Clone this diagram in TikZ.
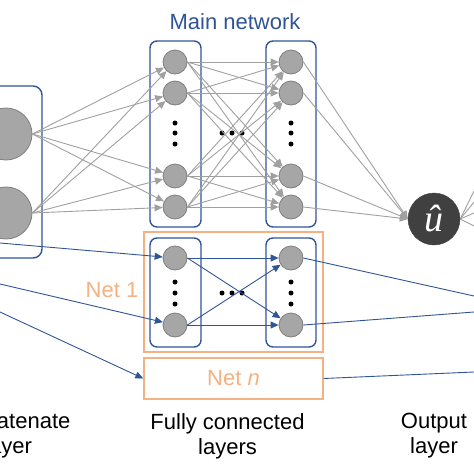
\documentclass[tikz,border=0pt]{standalone}
\usepackage{fontspec}
\setmainfont{Liberation Sans}
\newfontfamily\uhatfont{Liberation Serif}
\usetikzlibrary{arrows.meta}
\definecolor{nodegray}{HTML}{A6A6A6}
\definecolor{nodeedge}{HTML}{7F7F7F}
\definecolor{linegray}{HTML}{A0A0A0}
\definecolor{mainblue}{HTML}{2F5597}
\definecolor{netorange}{HTML}{F4B183}
\definecolor{darknode}{HTML}{404040}
\tikzset{
  neuron/.style={circle,fill=nodegray,draw=nodeedge,line width=0.8pt,minimum size=24pt,inner sep=0pt},
  bigneuron/.style={neuron,minimum size=52pt},
  outneuron/.style={circle,fill=darknode,draw=darknode,minimum size=52pt,inner sep=0pt,text=white,font=\uhatfont\itshape\fontsize{38}{38}\selectfont},
  bluebox/.style={draw=mainblue,line width=1.4pt,rounded corners=7pt},
  orangebox/.style={draw=netorange,line width=1.4pt},
  garrow/.style={draw=linegray,line width=0.9pt,-{Triangle[length=8pt,width=7pt]}},
  gline/.style={draw=linegray,line width=0.9pt},
  barrow/.style={draw=mainblue,line width=0.9pt,-{Triangle[length=8pt,width=7pt]}},
  bline/.style={draw=mainblue,line width=0.9pt},
  dotmark/.style={circle,fill=black,inner sep=0pt,minimum size=5pt},
  lbl/.style={font=\fontsize{22}{25}\selectfont,align=center,inner sep=0pt,anchor=north},
}
\begin{document}
\begin{tikzpicture}[x=1pt,y=-1pt]
\useasboundingbox (0,0) rectangle (474,474);
\clip (0,0) rectangle (474,474);

% title
\node[font=\fontsize{22}{25}\selectfont,text=mainblue,anchor=base,inner sep=0pt] (title) at (235,29) {Main network};

% concatenate layer
\node[bigneuron] (c1) at (6,134) {};
\node[bigneuron] (c2) at (6,213) {};
\draw[bluebox,rounded corners=9pt] (-30,86) rectangle (42,258);

% main network
\foreach \i/\y in {1/62,2/93,3/176,4/207}{
  \node[neuron] (m\i) at (175,\y) {};
  \node[neuron] (n\i) at (291,\y) {};
}
\draw[bluebox] (150,41) rectangle (201,227);
\draw[bluebox] (266,41) rectangle (316,227);
\foreach \y in {123,133,144}{
  \node[dotmark] at (175,\y) {};
  \node[dotmark] at (291,\y) {};
}
\foreach \x in {222,232,242}{\node[dotmark] at (\x,133) {};}

% output
\node[outneuron] (o) at (434,219) {û};

% Net 1
\node[neuron] (p1) at (175,258) {};
\node[neuron] (p2) at (175,325) {};
\node[neuron] (q1) at (291,258) {};
\node[neuron] (q2) at (291,325) {};
\draw[bluebox] (150,238) rectangle (201,347);
\draw[bluebox] (266,238) rectangle (316,347);
\draw[orangebox] (144,232) rectangle (323,352);
\foreach \y in {282,293,304}{
  \node[dotmark] at (175,\y) {};
  \node[dotmark] at (291,\y) {};
}
\foreach \x in {222,232,242}{\node[dotmark] at (\x,293) {};}
\node[font=\fontsize{22}{25}\selectfont,text=netorange,anchor=base,inner sep=0pt] (net1) at (112,297) {Net 1};

% Net n
\node[orangebox,minimum width=179pt,minimum height=41pt,inner sep=0pt,text=netorange,font=\fontsize{22}{25}\selectfont] (netn) at (233.5,378.5) {Net \textit{n}};

% gray connectors
\foreach \c in {c1,c2}{\foreach \m in {m1,m2,m3,m4}{\draw[garrow] (\c.east) -- (\m);}}
\foreach \m in {m1,m2,m3,m4}{\foreach \n in {n1,n2,n3,n4}{\draw[garrow] (\m.east) -- (\n);}}
\foreach \n in {n1,n2,n3,n4}{\draw[garrow] (\n.east) -- (o.west);}
\coordinate (r1) at (474,191);
\coordinate (r2) at (474,202);
\coordinate (r3) at (474,213);
\coordinate (r4) at (474,226);
\foreach \r in {r1,r2,r3,r4}{\draw[gline] (o.east) -- (\r);}

% blue connectors
\coordinate (l1) at (0,243);
\coordinate (l2) at (0,284);
\coordinate (l3) at (0,312);
\draw[barrow] (l1) -- (p1);
\draw[barrow] (l2) -- (p2);
\draw[barrow] (l3) -- (netn.west);
\foreach \p in {p1,p2}{\foreach \q in {q1,q2}{\draw[barrow] (\p.east) -- (\q);}}
\coordinate (s1) at (474,296);
\coordinate (s2) at (474,312);
\coordinate (s3) at (474,372);
\draw[bline] (q1.east) -- (s1);
\draw[bline] (q2.east) -- (s2);
\draw[bline] (netn.east) -- (s3);

% bottom labels
\node[lbl] (lab1) at (8,413) {Concatenate\\layer};
\node[lbl] (lab2) at (227.5,413) {Fully connected\\layers};
\node[lbl] (lab3) at (434,413) {Output\\layer};
\end{tikzpicture}
\end{document}
